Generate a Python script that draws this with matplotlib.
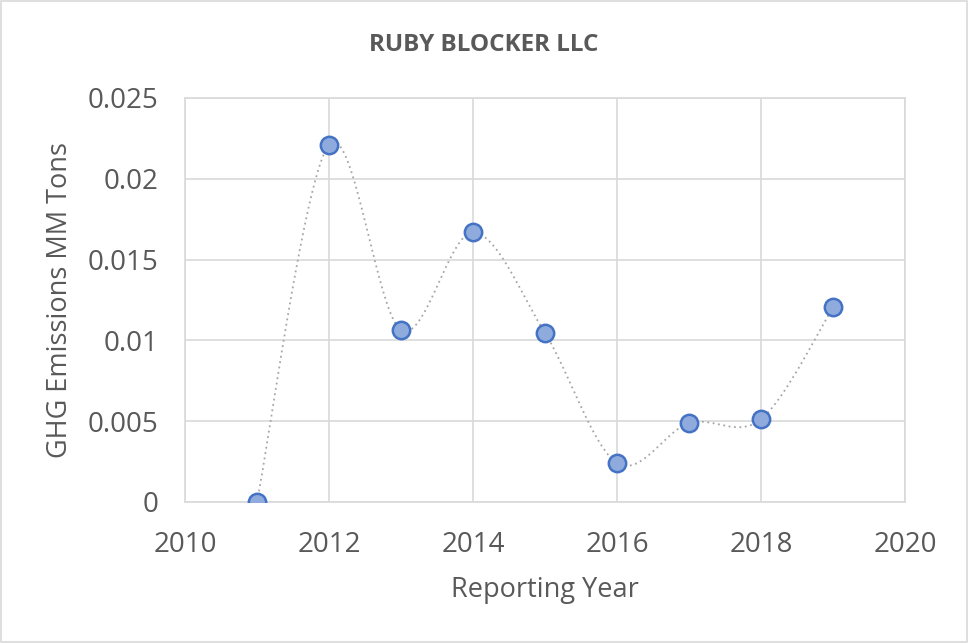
import numpy as np
import matplotlib
matplotlib.use('Agg')
from matplotlib import pyplot as plt

plt.rcParams['font.family'] = ['Open Sans', 'DejaVu Sans']

years = [2011, 2012, 2013, 2014, 2015, 2016, 2017, 2018, 2019]
emissions = [0.0, 0.0221, 0.01064, 0.01668, 0.01045, 0.00242, 0.00488, 0.00512, 0.01205]


def smooth(xs, ys, n=40):
    # Excel-like smoothed line (Catmull-Rom as cubic Bezier)
    x = np.array(xs, float)
    y = np.array(ys, float)
    px = np.concatenate([[x[0]], x, [x[-1]]])
    py = np.concatenate([[y[0]], y, [y[-1]]])
    outx, outy = [], []
    t = np.linspace(0, 1, n)
    for i in range(1, len(px) - 2):
        p0 = np.array([px[i], py[i]])
        p3 = np.array([px[i + 1], py[i + 1]])
        p1 = p0 + (np.array([px[i + 1], py[i + 1]]) - np.array([px[i - 1], py[i - 1]])) / 6
        p2 = p3 - (np.array([px[i + 2], py[i + 2]]) - np.array([px[i], py[i]])) / 6
        b = ((1 - t) ** 3)[:, None] * p0 + (3 * (1 - t) ** 2 * t)[:, None] * p1 \
            + (3 * (1 - t) * t ** 2)[:, None] * p2 + (t ** 3)[:, None] * p3
        outx.extend(b[:, 0])
        outy.extend(b[:, 1])
    return outx, outy


fig = plt.figure(figsize=(9.68, 6.43), dpi=100)
fig.patches.append(plt.Rectangle((0.001, 0.001), 0.998, 0.997, transform=fig.transFigure,
                                 fill=False, edgecolor='#d9d9d9', linewidth=1.2))
ax = fig.add_axes([0.1911, 0.2193, 0.7439, 0.6283])

sx, sy = smooth(years, emissions)
ax.plot(sx, sy, linestyle=(0, (1, 2)), color='#a6a6a6', linewidth=1.3, zorder=2)
ax.plot(years, emissions, linestyle='none', marker='o', markersize=12.5,
        markerfacecolor='#8faadc', markeredgecolor='#4472c4', markeredgewidth=1.8, zorder=3)

ax.set_xlim(2010, 2020)
ax.set_ylim(0, 0.025)
ax.set_xticks(range(2010, 2021, 2))
ax.set_yticks([0, 0.005, 0.01, 0.015, 0.02, 0.025])
ax.set_yticklabels(['0', '0.005', '0.01', '0.015', '0.02', '0.025'])
ax.grid(True, color='#d9d9d9', linewidth=1.2)
ax.set_axisbelow(True)
for s in ax.spines.values():
    s.set_color('#d9d9d9')
    s.set_linewidth(1.2)
ax.tick_params(length=0, labelsize=20, colors='#595959')
ax.tick_params(axis='x', pad=21)
ax.tick_params(axis='y', pad=19)

ax.set_xlabel('Reporting Year', fontsize=19.5, color='#595959', labelpad=12)
ax.set_ylabel('GHG Emissions MM Tons', fontsize=19.5, color='#595959', labelpad=10)
fig.text(0.5, 0.93, 'RUBY BLOCKER LLC', ha='center', va='center', fontsize=17.5,
         fontweight='bold', color='#595959')

plt.savefig('out.png', dpi=100)
